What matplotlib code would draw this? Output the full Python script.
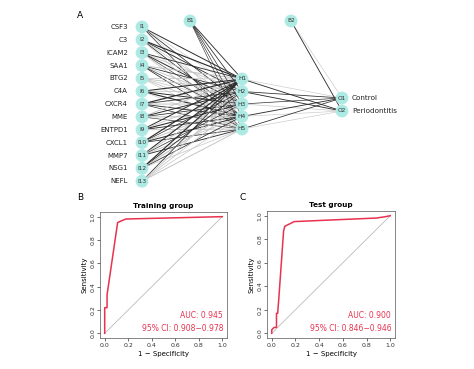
import matplotlib.pyplot as plt
import numpy as np

# ---- panel A: network ----
genes = ["CSF3", "C3", "ICAM2", "SAA1", "BTG2", "C4A", "CXCR4", "MME",
         "ENTPD1", "CXCL1", "MMP7", "NSG1", "NEFL"]
outputs = ["Control", "Periodontitis"]

# input -> hidden weights (rows I1..I13, cols H1..H5)
w_ih = np.array([
    [0.7, -0.3, 0.5, -0.2, 0.4],
    [0.9, 0.6, -0.4, 0.5, -0.3],
    [0.6, -0.5, 0.7, 0.3, -0.6],
    [-0.8, 0.5, -0.6, 0.4, 0.5],
    [-0.5, -0.7, -0.4, -0.6, -0.3],
    [0.8, -0.6, 0.7, 0.9, -0.4],
    [0.9, 0.5, -0.7, 0.6, 0.4],
    [-0.6, 0.7, 0.5, -0.8, 0.3],
    [0.7, -0.5, 0.8, 0.6, -0.7],
    [0.9, 0.4, -0.6, 0.7, 0.5],
    [0.8, -0.7, 0.4, -0.5, 0.6],
    [0.9, 0.6, -0.8, 0.5, -0.4],
    [0.5, -0.6, -0.5, -0.4, -0.7],
])
w_b1h = np.array([0.6, 0.5, 0.4, 0.3, 0.3])
# hidden -> output weights (rows H1..H5, cols O1, O2)
w_ho = np.array([
    [-0.3, 0.6],
    [0.5, 0.6],
    [0.4, -0.4],
    [0.6, -0.3],
    [0.5, -0.3],
])
w_b2o = np.array([-0.3, 0.6])

# ---- panels B/C: ROC curves ----
train_fpr = [0.0, 0.0, 0.02, 0.02, 0.11, 0.18, 1.0]
train_tpr = [0.0, 0.22, 0.22, 0.33, 0.95, 0.98, 1.0]
test_fpr = [0.0, 0.0, 0.02, 0.04, 0.04, 0.05, 0.06, 0.10, 0.11, 0.19, 0.88, 0.95, 1.0]
test_tpr = [0.0, 0.03, 0.05, 0.05, 0.17, 0.17, 0.30, 0.87, 0.91, 0.95, 0.98, 0.99, 1.0]
train_auc = "AUC: 0.945\n95% CI: 0.908\u22120.978"
test_auc = "AUC: 0.900\n95% CI: 0.846\u22120.946"

node_col = "#aeeae4"
red = "#e8324f"

fig = plt.figure(figsize=(4.74, 3.69), dpi=100)

# network axes in pixel units
axn = fig.add_axes([0, 1 - 190 / 369, 1, 190 / 369])
axn.set_xlim(0, 474)
axn.set_ylim(190, 0)
axn.axis("off")

in_x, hid_x, out_x = 142, 242, 342
in_y = 27 + np.arange(len(genes)) * 12.85
hid_y = 79 + np.arange(w_ih.shape[1]) * 12.5
out_y = 98 + np.arange(len(outputs)) * 13
b1 = (190, 21)
b2 = (291, 21)


def edge(x0, y0, x1, y1, w):
    col = "#2a2a2a" if w > 0 else "#c4c4c4"
    axn.plot([x0, x1], [y0, y1], color=col, lw=0.2 + 0.7 * abs(w), zorder=1)


for i in range(len(genes)):
    for j in range(len(hid_y)):
        edge(in_x, in_y[i], hid_x, hid_y[j], w_ih[i, j])
for j in range(len(hid_y)):
    edge(b1[0], b1[1], hid_x, hid_y[j], w_b1h[j])
    for k in range(len(outputs)):
        edge(hid_x, hid_y[j], out_x, out_y[k], w_ho[j, k])
for k in range(len(outputs)):
    edge(b2[0], b2[1], out_x, out_y[k], w_b2o[k])


def node(x, y, lab):
    axn.scatter([x], [y], s=85, color=node_col, zorder=3, edgecolors="none")
    axn.text(x, y, lab, fontsize=4.2, ha="center", va="center", color="#333333", zorder=4)


for i, g in enumerate(genes):
    node(in_x, in_y[i], "I%d" % (i + 1))
    axn.text(in_x - 14, in_y[i], g, fontsize=5, ha="right", va="center", color="#222222")
for j in range(len(hid_y)):
    node(hid_x, hid_y[j], "H%d" % (j + 1))
for k, o in enumerate(outputs):
    node(out_x, out_y[k], "O%d" % (k + 1))
    axn.text(out_x + 10, out_y[k], o, fontsize=5.2, ha="left", va="center", color="#222222")
node(b1[0], b1[1], "B1")
node(b2[0], b2[1], "B2")
axn.text(80, 15, "A", fontsize=6.5, ha="center", va="center")


def roc_panel(rect, fpr, tpr, title, txt, letter, lx):
    ax = fig.add_axes(rect)
    ax.plot([0, 1], [0, 1], color="#bbbbbb", lw=0.6)
    ax.plot(fpr, tpr, color=red, lw=1.1)
    ax.set_xlim(-0.04, 1.04)
    ax.set_ylim(-0.04, 1.04)
    ticks = [0, 0.2, 0.4, 0.6, 0.8, 1.0]
    ax.set_xticks(ticks)
    ax.set_yticks(ticks)
    ax.set_xticklabels(["%.1f" % t for t in ticks], fontsize=4.5)
    ax.set_yticklabels(["%.1f" % t for t in ticks], fontsize=4.5, rotation=90, va="center")
    ax.tick_params(length=2, width=0.5, pad=1.5, colors="#333333")
    for s in ax.spines.values():
        s.set_linewidth(0.5)
        s.set_color("#555555")
    ax.set_title(title, fontsize=5.2, fontweight="bold", pad=3)
    ax.set_xlabel("1 \u2212 Specificity", fontsize=5, labelpad=2)
    ax.set_ylabel("Sensitivity", fontsize=5, labelpad=2)
    ax.text(0.97, 0.04, txt, transform=ax.transAxes, ha="right", va="bottom",
            fontsize=5.5, color=red, multialignment="right", linespacing=1.5)
    fig.text(lx, 1 - 197 / 369, letter, fontsize=6.5, ha="center", va="center")
    return ax


roc_panel([100 / 474, 1 - 338 / 369, 127 / 474, 126 / 369], train_fpr, train_tpr,
          "Training group", train_auc, "B", 80 / 474)
roc_panel([267 / 474, 1 - 338 / 369, 128 / 474, 127 / 369], test_fpr, test_tpr,
          "Test group", test_auc, "C", 243 / 474)

fig.savefig("out.png", dpi=100)
